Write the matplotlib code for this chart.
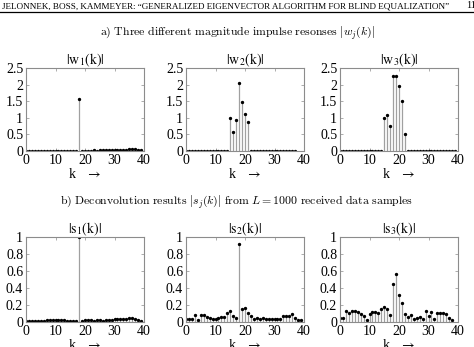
import numpy as np
import matplotlib
matplotlib.use("Agg")
import matplotlib.pyplot as plt

plt.rcParams['font.family'] = ['Liberation Serif', 'DejaVu Serif']
plt.rcParams['mathtext.fontset'] = 'stix'

# --- Data ---
w1 = [0.01] * 18 + [1.58] + [0.01, 0.01, 0.01, 0.01, 0.02, 0.01, 0.02, 0.02, 0.02, 0.02, 0.02,
                               0.03, 0.03, 0.03, 0.03, 0.04, 0.05, 0.06, 0.05, 0.04, 0.02]
w2 = [0.0] * 15 + [1.0, 0.58, 0.92, 2.05, 1.48, 1.1, 0.86] + [0.0] * 16
w3 = [0.0] * 15 + [1.0, 1.08, 0.75, 2.25, 2.25, 1.97, 1.5, 0.5] + [0.0] * 17

s1 = [0.01, 0.01, 0.01, 0.01, 0.01, 0.01, 0.01, 0.02, 0.02, 0.02, 0.02, 0.02, 0.02, 0.02, 0.01,
      0.01, 0.01, 0.01, 1.0, 0.01, 0.02, 0.02, 0.02, 0.01, 0.02, 0.02, 0.01, 0.02, 0.02, 0.02,
      0.03, 0.03, 0.03, 0.03, 0.03, 0.05, 0.05, 0.04, 0.02, 0.01]
s2 = [0.03, 0.03, 0.03, 0.08, 0.02, 0.08, 0.08, 0.06, 0.05, 0.04, 0.04, 0.05, 0.06, 0.06, 0.11,
      0.13, 0.07, 0.05, 0.92, 0.15, 0.16, 0.11, 0.07, 0.04, 0.05, 0.04, 0.05, 0.03, 0.03, 0.04,
      0.04, 0.03, 0.03, 0.07, 0.07, 0.07, 0.09, 0.05, 0.02, 0.02]
s3 = [0.05, 0.05, 0.13, 0.11, 0.13, 0.13, 0.12, 0.10, 0.07, 0.02, 0.10, 0.12, 0.12, 0.11, 0.15,
      0.18, 0.15, 0.08, 0.45, 0.57, 0.32, 0.22, 0.10, 0.06, 0.08, 0.03, 0.05, 0.06, 0.04, 0.13,
      0.07, 0.12, 0.04, 0.11, 0.11, 0.11, 0.10, 0.05, 0.02]

top_titles = [r'$|\mathrm{w}_1\mathrm{(k)}|$', r'$|\mathrm{w}_2\mathrm{(k)}|$', r'$|\mathrm{w}_3\mathrm{(k)}|$']
bot_titles = [r'$|\mathrm{s}_1\mathrm{(k)}|$', r'$|\mathrm{s}_2\mathrm{(k)}|$', r'$|\mathrm{s}_3\mathrm{(k)}|$']
top_yticks = [0, 0.5, 1, 1.5, 2, 2.5]
top_ylabels = ['0', '0.5', '1', '1.5', '2', '2.5']
bot_yticks = [0, 0.2, 0.4, 0.6, 0.8, 1]
bot_ylabels = ['0', '0.2', '0.4', '0.6', '0.8', '1']
xticks = [0, 10, 20, 30, 40]

W, H = 474, 347
fig = plt.figure(figsize=(W / 100, H / 100), dpi=100)

# header
fig.text(2 / W, 1 - 6 / H,
         'JELONNEK, BOSS, KAMMEYER: \u201cGENERALIZED EIGENVECTOR ALGORITHM FOR BLIND EQUALIZATION\u201d',
         fontsize=6.6, va='center', ha='left')
fig.text(466 / W, 1 - 6 / H, '11', fontsize=7.5, va='center', ha='left')
fig.add_artist(plt.Line2D([0, 1], [1 - 12 / H, 1 - 12 / H], color='black', lw=0.9))

# section titles (Computer Modern look)
fig.text(0.5, 1 - 33 / H,
         r'$\mathrm{a)\ Three\ different\ magnitude\ impulse\ resonses}\ |w_j(k)|$',
         fontsize=8.5, ha='center', va='center', math_fontfamily='cm')
fig.text(0.5, 1 - 202 / H,
         r'$\mathrm{b)\ Deconvolution\ results}\ |s_j(k)|\ \mathrm{from}\ L = 1000\ \mathrm{received\ data\ samples}$',
         fontsize=8.5, ha='center', va='center', math_fontfamily='cm')

lefts = [26, 186, 340]
gray = '#8c8c8c'
stem_gray = '#a0a0a0'


def stem_panel(ax, vals, title, yticks, ylabels, ymax):
    k = np.arange(len(vals))
    ml, sl, bl = ax.stem(k, vals, basefmt=' ')
    plt.setp(sl, color=stem_gray, linewidth=0.9)
    plt.setp(ml, color='black', marker='o', markersize=1.4)
    ax.set_xlim(0, 40)
    ax.set_ylim(0, ymax)
    ax.set_xticks(xticks)
    ax.set_yticks(yticks)
    ax.set_yticklabels(ylabels)
    ax.tick_params(direction='in', length=2, width=0.5, color=gray, labelsize=10,
                   top=True, right=True, pad=2)
    for sp in ax.spines.values():
        sp.set_color(gray)
        sp.set_linewidth(0.8)
    ax.set_title(title, fontsize=10, pad=3)
    ax.set_xlabel(r'k   $\rightarrow$', fontsize=10, labelpad=0)


for i, vals in enumerate([w1, w2, w3]):
    ax = fig.add_axes([lefts[i] / W, 1 - 151 / H, 118 / W, 83 / H])
    stem_panel(ax, vals, top_titles[i], top_yticks, top_ylabels, 2.5)

for i, vals in enumerate([s1, s2, s3]):
    ax = fig.add_axes([lefts[i] / W, 1 - 322 / H, 118 / W, 85 / H])
    stem_panel(ax, vals, bot_titles[i], bot_yticks, bot_ylabels, 1.0)

fig.savefig('out.png', dpi=100)
